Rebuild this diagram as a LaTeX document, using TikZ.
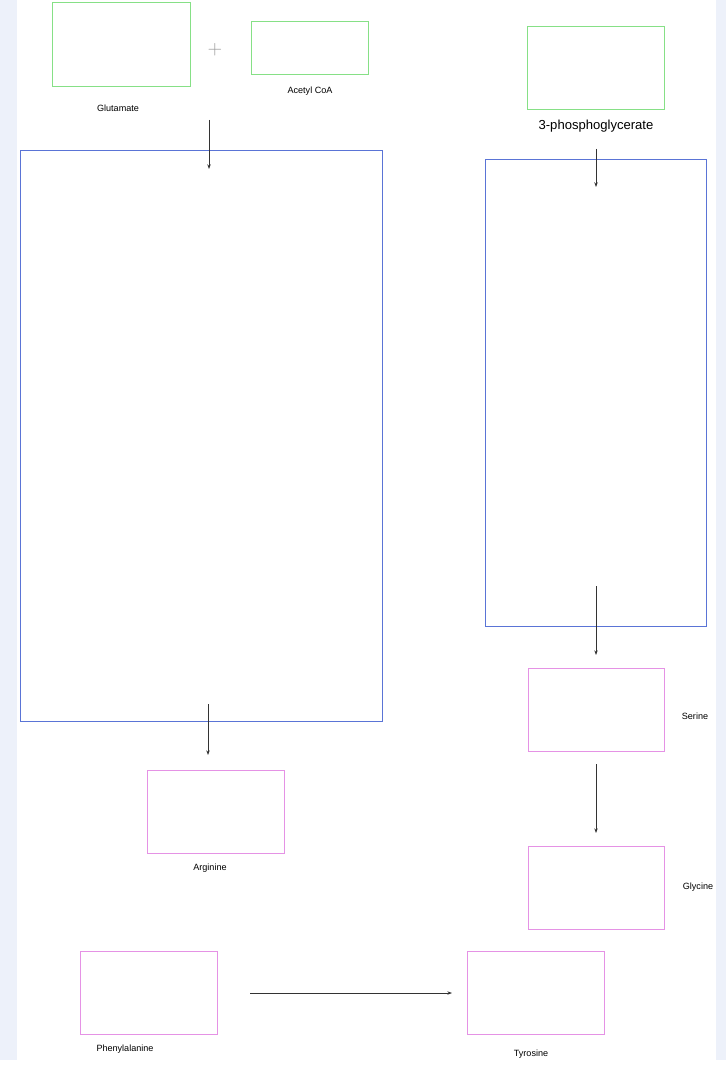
\documentclass[tikz,border=0pt]{standalone}
\usepackage{fontspec}
\setmainfont{Liberation Sans}
\usetikzlibrary{arrows.meta}
\definecolor{color_page_side}{HTML}{EDF1FA}
\definecolor{color_box_source}{HTML}{86E086}
\definecolor{color_box_pathway}{HTML}{5A74D6}
\definecolor{color_box_product}{HTML}{E592E5}
\definecolor{color_reaction}{HTML}{333333}
\definecolor{color_plus}{HTML}{9A9A9A}
\def\pxunit{0.75pt}
\def\boxlinewidth{0.75pt}
\def\molboxlabelsize{\fontsize{6.8}{8}\selectfont}
\def\molbox[#1](#2,#3,#4,#5,#6){
    \node[draw=#1,line width=\boxlinewidth,minimum width=#5*\pxunit,minimum height=#6*\pxunit,inner sep=0pt] (#2) at (#3,#4) {};
}
\def\reaction(#1,#2){
    \draw[color_reaction,line width=0.6pt,-{Stealth[length=3.5pt,width=2.6pt]}] (#1) -- (#2);
}

\begin{document}
\begin{tikzpicture}[x=0.75pt,y=-0.75pt]
        \useasboundingbox (0,0) rectangle (726,1070);
        \fill[color_page_side] (0,0) rectangle (726,1060);
        \fill[white] (17,0) rectangle (716,1060);
        % starting compounds
        \molbox[color_box_source](glutamate,121,45,138,84)
        \molbox[color_box_source](acetylcoa,309.5,48.5,117,53)
        \molbox[color_box_source](phosphoglycerate,595.5,68.5,137,83)
        \node[color_plus,inner sep=0pt] (plus) at (215,50) {\fontsize{15}{15}\selectfont$+$};
        % pathways
        \molbox[color_box_pathway](urea_pathway,201,436,362,570)
        \molbox[color_box_pathway](serine_pathway,595.5,393,221,466)
        % amino acids
        \molbox[color_box_product](arginine,215.5,811.5,137,83)
        \molbox[color_box_product](serine,596,709.5,136,83)
        \molbox[color_box_product](glycine,596,887.5,136,83)
        \molbox[color_box_product](phenylalanine,148.5,992.5,137,83)
        \molbox[color_box_product](tyrosine,535.5,992.5,137,83)
        % labels
        \node (glutamate_label) at (118,108) {\molboxlabelsize Glutamate};
        \node (acetylcoa_label) at (310,91) {\molboxlabelsize Acetyl CoA};
        \node (phosphoglycerate_label) at (596,126) {\fontsize{9.8}{12}\selectfont 3-phosphoglycerate};
        \node (arginine_label) at (210,868) {\molboxlabelsize Arginine};
        \node (serine_label) at (695,716) {\molboxlabelsize Serine};
        \node (glycine_label) at (698,887) {\molboxlabelsize Glycine};
        \node (phenylalanine_label) at (125,1049) {\molboxlabelsize Phenylalanine};
        \node (tyrosine_label) at (531,1054) {\molboxlabelsize Tyrosine};
        % reactions
        \coordinate (glu_from) at (209,120);
        \coordinate (glu_to) at (209,169);
        \coordinate (arg_from) at (208,704);
        \coordinate (arg_to) at (208,755);
        \coordinate (pg_from) at (596,149);
        \coordinate (pg_to) at (596,187);
        \coordinate (ser_from) at (596,586);
        \coordinate (ser_to) at (596,655);
        \coordinate (gly_from) at (596,764);
        \coordinate (gly_to) at (596,833);
        \coordinate (phe_from) at (250,993);
        \coordinate (phe_to) at (452,993);
        \reaction(glu_from,glu_to)
        \reaction(arg_from,arg_to)
        \reaction(pg_from,pg_to)
        \reaction(ser_from,ser_to)
        \reaction(gly_from,gly_to)
        \reaction(phe_from,phe_to)
    \end{tikzpicture}
\end{document}
